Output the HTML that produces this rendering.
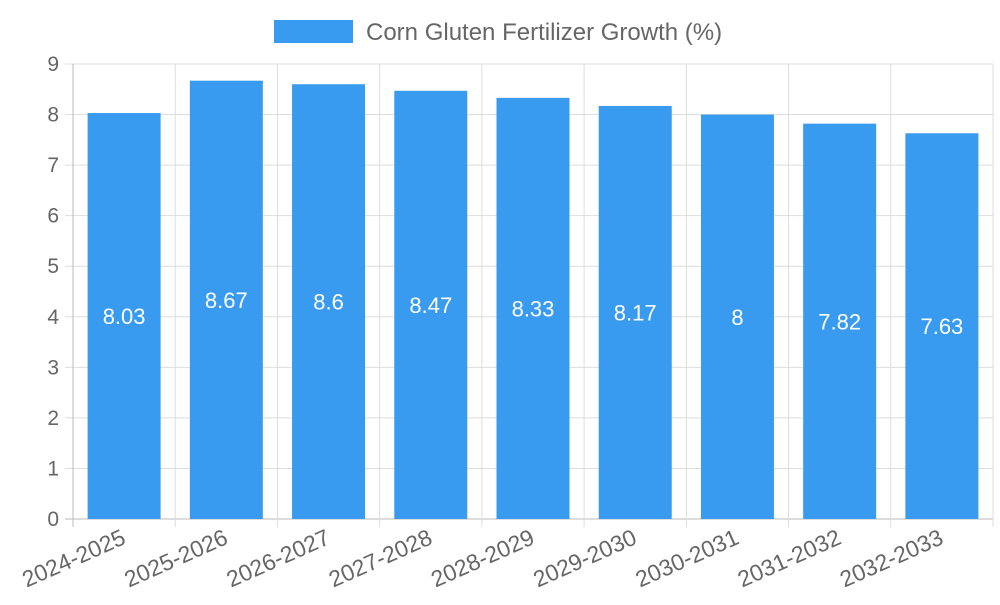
<!DOCTYPE html>
<html><head><meta charset="utf-8"><style>
body{margin:0;background:#fff;font-family:"Liberation Sans",sans-serif}
</style></head><body>
<svg id="c" width="1000" height="600" xmlns="http://www.w3.org/2000/svg"></svg>
<script>
const categories=["2024-2025","2025-2026","2026-2027","2027-2028","2028-2029","2029-2030","2030-2031","2031-2032","2032-2033"];
const values=[8.03,8.67,8.6,8.47,8.33,8.17,8,7.82,7.63];
const valueLabels=["8.03","8.67","8.6","8.47","8.33","8.17","8","7.82","7.63"];
const yTicks=[0,1,2,3,4,5,6,7,8,9];
const svg=document.getElementById('c');
const NS="http://www.w3.org/2000/svg";
const L=73,R=993,T=64,B=519,yMax=9;
const y=v=>B-(v/yMax)*(B-T);
const bw=(R-L)/categories.length;
const x=i=>L+i*bw;
function mk(t,a,txt){const e=document.createElementNS(NS,t);for(const k in a)e.setAttribute(k,a[k]);if(txt!=null)e.textContent=txt;svg.appendChild(e);return e;}
yTicks.forEach(v=>{
 const g=mk('line',{x1:L-8,x2:R,y1:y(v),y2:y(v),stroke:v===0?'#bbb':'#ddd','stroke-width':1});
 
 
 const t=mk('text',{x:L-14,y:y(v)+7,'text-anchor':'end','font-size':21,fill:'#666'},String(v));
 
 
});
for(let i=0;i<=categories.length;i++){
 const g=mk('line',{x1:x(i),x2:x(i),y1:T,y2:B+8,stroke:i===0?'#bbb':'#ddd','stroke-width':1});
 
 
}
const bwBar=73;
categories.forEach((c,i)=>{
 const cx=x(i)+bw/2;
 const r=mk('rect',{x:cx-bwBar/2,y:y(values[i]),width:bwBar,height:B-y(values[i]),fill:'#399bf0'});
 
 
 const t=mk('text',{x:cx,y:y(values[i]/2)+8,'text-anchor':'middle','font-size':22,fill:'#fff'},valueLabels[i]);
 
 
 const ax=cx+3,ay=B+24;
 const xl=mk('text',{x:ax,y:ay,'text-anchor':'end','font-size':23,fill:'#666',transform:`rotate(-24 ${ax} ${ay})`},c);
 
 
});
const lb=mk('rect',{x:274,y:20,width:79,height:23,fill:'#399bf0'});


const lt=mk('text',{x:366,y:40,'font-size':24,fill:'#666'},'Corn Gluten Fertilizer Growth (%)');


</script>
</body></html>
